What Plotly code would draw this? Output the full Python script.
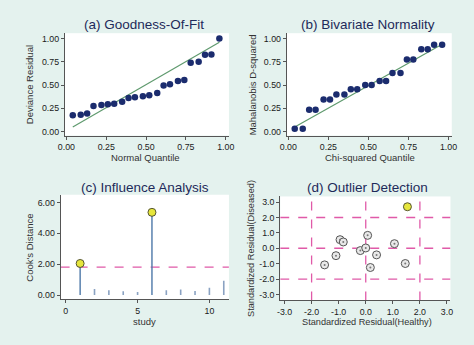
import plotly.graph_objects as go

# ---- data -------------------------------------------------------------
quantile_x = [0.04, 0.09, 0.13, 0.17, 0.22, 0.26, 0.30, 0.35, 0.39, 0.43, 0.48,
              0.52, 0.57, 0.61, 0.65, 0.70, 0.74, 0.78, 0.83, 0.87, 0.91, 0.96]
deviance_resid = [0.175, 0.18, 0.195, 0.275, 0.285, 0.295, 0.30, 0.32, 0.36, 0.37, 0.38,
                  0.39, 0.415, 0.495, 0.51, 0.545, 0.555, 0.74, 0.75, 0.825, 0.83, 1.00]
fit_a_x = [0.04, 0.96]
fit_a_y = [0.05, 0.96]

mahal_d2 = [0.03, 0.03, 0.235, 0.235, 0.345, 0.345, 0.40, 0.40, 0.455, 0.455, 0.50,
            0.50, 0.545, 0.545, 0.63, 0.63, 0.775, 0.775, 0.885, 0.885, 0.935, 0.935]
fit_b_x = [0.04, 0.96]
fit_b_y = [0.05, 0.94]

study = [1, 2, 3, 4, 5, 6, 7, 8, 9, 10, 11]
cooks_d = [2.05, 0.40, 0.32, 0.25, 0.20, 5.36, 0.31, 0.36, 0.27, 0.47, 0.93]
cooks_cut = 1.81

resid_healthy = [-1.52, -1.10, -0.95, -0.83, -0.20, 0.00, 0.07, 0.17, 0.40, 1.06, 1.46, 1.54]
resid_diseased = [-1.08, -0.48, 0.56, 0.41, -0.15, 0.02, 0.84, -1.25, -0.43, 0.30, -0.99, 2.70]
outlier_cut = [-2.0, 0.0, 2.0]

a_ticks = [0, 0.25, 0.5, 0.75, 1.0]
c_xticks = [0, 5, 10]
c_yticks = [0, 2, 4, 6]
d_ticks = [-3, -2, -1, 0, 1, 2, 3]

# axis ranges
a_xrange = [-0.01, 1.02]
a_yrange = [-0.043, 1.058]
c_xrange = [-0.36, 11.36]
c_yrange = [-0.28, 6.5]
d_xrange = [-3.16, 3.13]
d_yrange = [-3.39, 3.37]

# ---- style ------------------------------------------------------------
BG = "#e4f2ee"
NAVY = "#1b2c6e"
TITLE = "#1e2a5a"
GREEN = "#5f9a6e"
PINK = "#e05aa8"
FONT = "Liberation Sans, Arial, sans-serif"
W, H = 474, 345

fig = go.Figure()

# (a) goodness of fit
fig.add_trace(go.Scatter(x=fit_a_x, y=fit_a_y, mode="lines",
                         line=dict(color=GREEN, width=1.2), xaxis="x", yaxis="y"))
fig.add_trace(go.Scatter(x=quantile_x, y=deviance_resid, mode="markers",
                         marker=dict(color=NAVY, size=6.5), xaxis="x", yaxis="y"))

# (b) bivariate normality
fig.add_trace(go.Scatter(x=fit_b_x, y=fit_b_y, mode="lines",
                         line=dict(color=GREEN, width=1.2), xaxis="x2", yaxis="y2"))
fig.add_trace(go.Scatter(x=quantile_x, y=mahal_d2, mode="markers",
                         marker=dict(color=NAVY, size=6.5), xaxis="x2", yaxis="y2"))

# (c) influence analysis: cut-off line, spikes, highlighted studies
fig.add_trace(go.Scatter(x=c_xrange, y=[cooks_cut, cooks_cut], mode="lines",
                         line=dict(color=PINK, width=1.3, dash="dash"),
                         xaxis="x3", yaxis="y3"))
for s, d in zip(study, cooks_d):
    big = d > cooks_cut
    fig.add_trace(go.Scatter(x=[s, s], y=[0, d], mode="lines",
                             line=dict(color="#4d78a8" if big else "#8aa2c2",
                                       width=1.4 if big else 1.6),
                             xaxis="x3", yaxis="y3"))
hi_x = [s for s, d in zip(study, cooks_d) if d > cooks_cut]
hi_y = [d for d in cooks_d if d > cooks_cut]
fig.add_trace(go.Scatter(x=hi_x, y=hi_y, mode="markers",
                         marker=dict(color="#e6e63c", size=8,
                                     line=dict(color="#555533", width=1)),
                         xaxis="x3", yaxis="y3"))

# (d) outlier detection: reference grid of +/-2 and 0, then residuals
for v in outlier_cut:
    fig.add_trace(go.Scatter(x=[v, v], y=d_yrange, mode="lines",
                             line=dict(color=PINK, width=1.3, dash="dash"),
                             xaxis="x4", yaxis="y4"))
    fig.add_trace(go.Scatter(x=d_xrange, y=[v, v], mode="lines",
                             line=dict(color=PINK, width=1.3, dash="dash"),
                             xaxis="x4", yaxis="y4"))

normal_x = [x for x, y in zip(resid_healthy, resid_diseased) if abs(y) <= 2]
normal_y = [y for y in resid_diseased if abs(y) <= 2]
out_x = [x for x, y in zip(resid_healthy, resid_diseased) if abs(y) > 2]
out_y = [y for y in resid_diseased if abs(y) > 2]
fig.add_trace(go.Scatter(x=normal_x, y=normal_y, mode="markers",
                         marker=dict(color="#e8e8e8", size=8,
                                     line=dict(color="#555555", width=1)),
                         xaxis="x4", yaxis="y4"))
fig.add_trace(go.Scatter(x=normal_x, y=normal_y, mode="markers",
                         marker=dict(color="#777777", size=2),
                         xaxis="x4", yaxis="y4"))
fig.add_trace(go.Scatter(x=out_x, y=out_y, mode="markers",
                         marker=dict(color="#e6e63c", size=8,
                                     line=dict(color="#555533", width=1)),
                         xaxis="x4", yaxis="y4"))


def axis(dom, rng, ticks, fmt, anchor):
    return dict(domain=dom, range=rng, tickvals=ticks,
                ticktext=[fmt.format(t) for t in ticks],
                showgrid=False, zeroline=False, showline=True, linecolor="#555555",
                linewidth=1, ticks="outside", ticklen=3, tickcolor="#555555",
                tickfont=dict(family=FONT, size=8.8, color="#1a1a1a"),
                anchor=anchor, fixedrange=True)


def px(x0, x1):
    return [x0 / W, x1 / W]


def py(top, bottom):
    return [1 - bottom / H, 1 - top / H]


layout = dict(
    width=W, height=H, margin=dict(l=0, r=0, t=0, b=0),
    paper_bgcolor=BG, plot_bgcolor="white", showlegend=False,
    font=dict(family=FONT),
    xaxis=axis(px(59.3, 227.7), a_xrange, a_ticks, "{:.2f}", "y"),
    yaxis=axis(py(33.3, 136), a_yrange, a_ticks, "{:.2f}", "x"),
    xaxis2=axis(px(287, 456.3), a_xrange, a_ticks, "{:.2f}", "y2"),
    yaxis2=axis(py(33.3, 136), a_yrange, a_ticks, "{:.2f}", "x2"),
    xaxis3=axis(px(55, 227.7), c_xrange, c_xticks, "{:d}", "y3"),
    yaxis3=axis(py(195.3, 300.3), c_yrange, c_yticks, "{:.2f}", "x3"),
    xaxis4=axis(px(280.3, 455), d_xrange, d_ticks, "{:.1f}", "y4"),
    yaxis4=axis(py(197, 301.3), d_yrange, d_ticks, "{:.1f}", "x4"),
)
fig.update_layout(**layout)

# panel titles and axis titles
texts = [
    ("(a) Goodness-Of-Fit", 141, 25, 0, 13.5, TITLE),
    ("(b) Bivariate Normality", 370, 25, 0, 13.5, TITLE),
    ("(c) Influence Analysis", 142, 188, 0, 13.5, TITLE),
    ("(d) Outlier Detection", 370, 188, 0, 13.5, TITLE),
    ("Normal Quantile", 142, 157.5, 0, 9.5, "#333333"),
    ("Chi-squared Quantile", 372, 157.5, 0, 9.5, "#333333"),
    ("study", 141, 322, 0, 9.5, "#333333"),
    ("Standardized Residual(Healthy)", 369, 322.5, 0, 9.2, "#333333"),
    ("Deviance Residual", 23, 85, -90, 9.5, "#333333"),
    ("Mahalanobis D-squared", 252, 85, -90, 9.5, "#333333"),
    ("Cook's Distance", 23, 248, -90, 9.5, "#333333"),
    ("Standardized Residual(Diseased)", 251, 249, -90, 9.2, "#333333"),
]
for t, x, y, ang, size, col in texts:
    fig.add_annotation(text=t, x=x / W, y=1 - y / H, xref="paper", yref="paper",
                       xanchor="center", yanchor="middle", textangle=ang,
                       showarrow=False, font=dict(family=FONT, size=size, color=col))

fig.write_html("out.html")
